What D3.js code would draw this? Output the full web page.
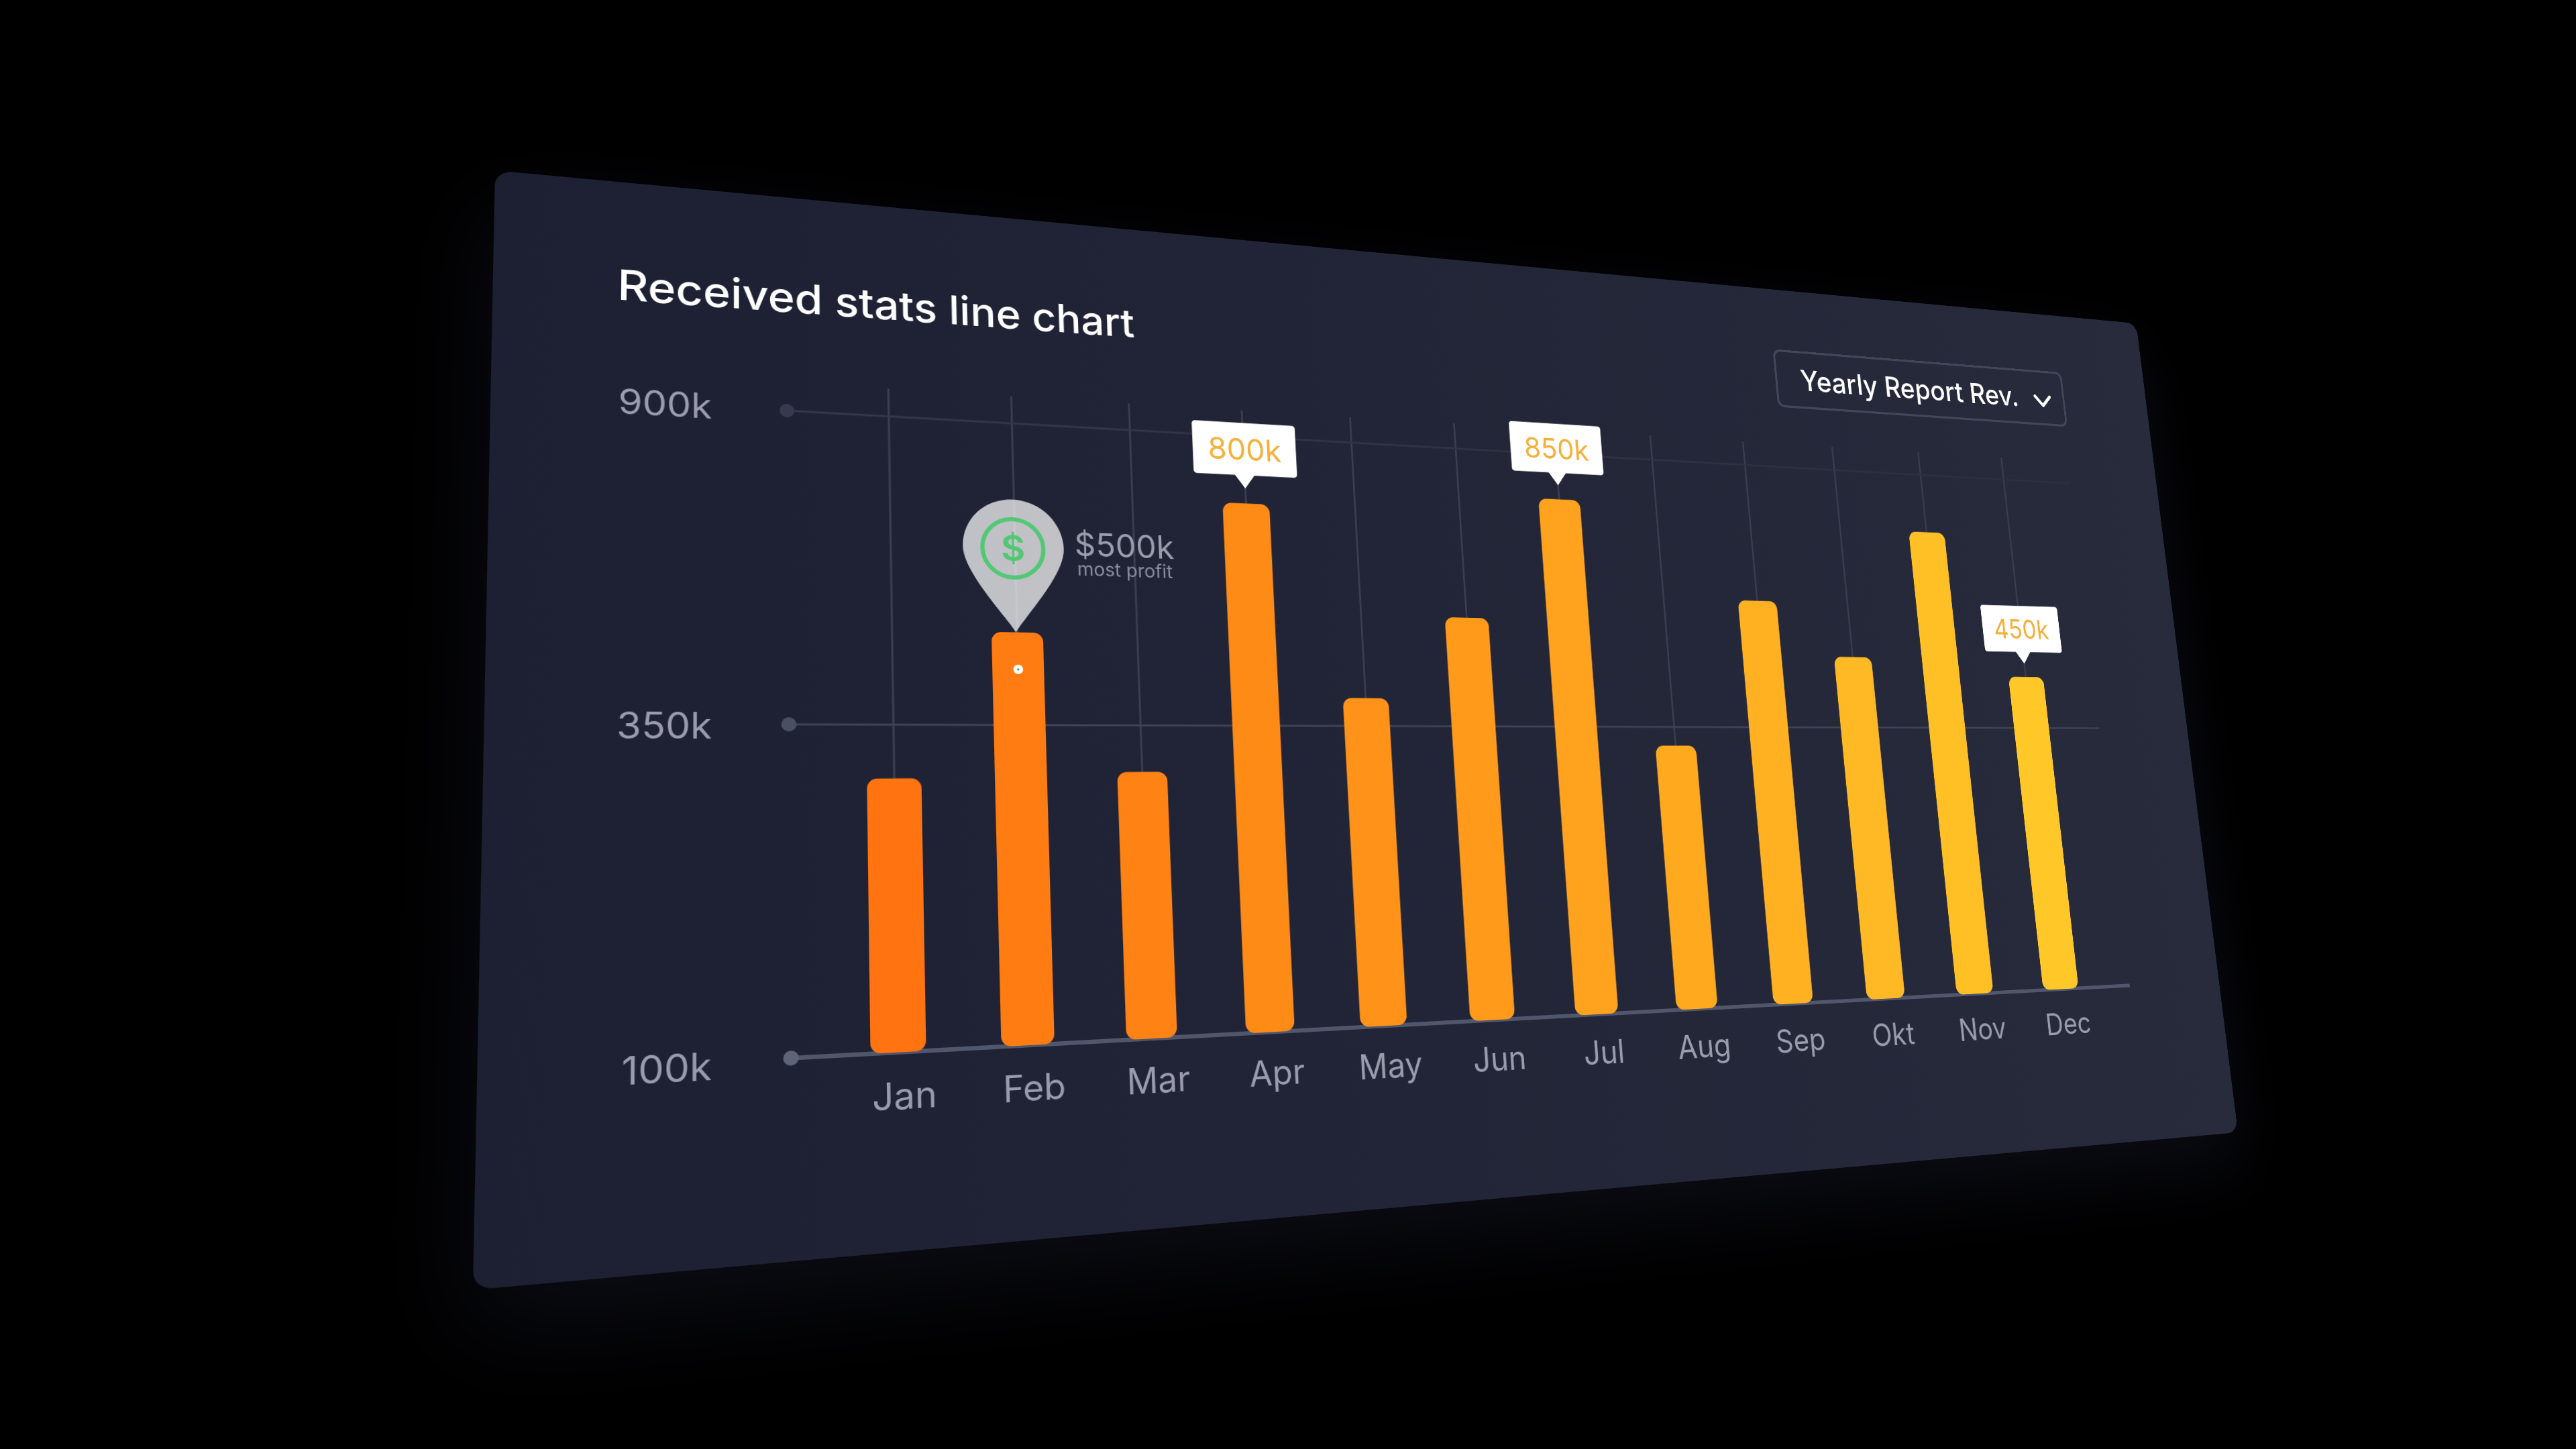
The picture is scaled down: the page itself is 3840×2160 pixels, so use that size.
<!DOCTYPE html>
<html>
<head>
<meta charset="utf-8">
<script src="https://cdn.jsdelivr.net/npm/d3@7"></script>
<style>
    html, body { margin: 0; width: 3840px; height: 2160px; background: #000; overflow: hidden; }
    #panel {
        position: absolute; left: 0; top: 0; width: 2800px; height: 1500px;
        transform-origin: 0 0; border-radius: 22px; overflow: visible;
        background: linear-gradient(90deg, #1d2032, #272b3c);
        box-shadow: 0 50px 130px rgba(40, 44, 70, .3);
    }
    svg { display: block; font-family: Inter, sans-serif; }
    .axis path { display: none; }
</style>
</head>
<body>
<div id="panel"></div>
<script>
const months = ['Jan', 'Feb', 'Mar', 'Apr', 'May', 'Jun', 'Jul', 'Aug', 'Sep', 'Okt', 'Nov', 'Dec']
const received = [308, 516, 312, 770, 403, 562, 807, 333, 612, 498, 773, 461]
const yTicks = [100, 350, 900]
const calloutMonths = ['Apr', 'Jul', 'Dec']
const calloutLabels = ['800k', '850k', '450k']

const W = 2800
const H = 1500

// where the flat panel ends up on screen: TL, TR, BR, BL
const corners = [[738, 254], [3184, 482], [3336, 1688], [705, 1923]]

function panelMatrix(q) {
    let [x0, y0] = q[0], [x1, y1] = q[1], [x2, y2] = q[2], [x3, y3] = q[3]
    let dx1 = x1 - x2, dx2 = x3 - x2, sx = x0 - x1 + x2 - x3
    let dy1 = y1 - y2, dy2 = y3 - y2, sy = y0 - y1 + y2 - y3
    let det = dx1 * dy2 - dx2 * dy1
    let g = (sx * dy2 - dx2 * sy) / det
    let h = (dx1 * sy - sx * dy1) / det
    let a = x1 - x0 + g * x1, b = x3 - x0 + h * x3
    let d = y1 - y0 + g * y1, e = y3 - y0 + h * y3
    return [a / W, d / W, 0, g / W, b / H, e / H, 0, h / H, 0, 0, 1, 0, x0, y0, 0, 1]
}

let panel = d3.select('#panel').style('transform', 'matrix3d(' + panelMatrix(corners).join(',') + ')')
let svg = panel.append('svg').attr('width', W).attr('height', H)

let x = d3.scalePoint().domain(months).range([521, 2458])
// the axis is not even: 100k, 350k and 900k sit at equal distances
let y = d3.scaleLinear().domain([100, 350, 900]).range([1234, 777, 323])
let barColor = d3.scaleLinear().domain([0, months.length - 1]).range(['#ff7410', '#ffc828'])
const barWidth = 74
const axisLeft = 381, axisRight = 2604, gridTop = 281

let fade = svg.append('defs').append('linearGradient')
    .attr('id', 'topFade').attr('gradientUnits', 'userSpaceOnUse')
    .attr('x1', axisLeft).attr('x2', axisRight).attr('y1', 0).attr('y2', 0)
fade.append('stop').attr('offset', 0).attr('stop-color', '#343849')
fade.append('stop').attr('offset', 1).attr('stop-color', '#2b2f40')

svg.append('text')
    .attr('x', 157).attr('y', 175)
    .attr('fill', '#fff').attr('font-size', 62.3).attr('font-weight', 500)
    .text('Received stats line chart')

// dropdown
let drop = svg.append('g')
drop.append('rect')
    .attr('x', 2007).attr('y', 112).attr('width', 604).attr('height', 101).attr('rx', 12)
    .attr('fill', 'none').attr('stroke', '#41465a').attr('stroke-width', 4)
drop.append('text')
    .attr('x', 2055).attr('y', 182)
    .attr('fill', '#fff').attr('font-size', 52).attr('font-weight', 500)
    .text('Yearly Report Rev.')
drop.append('path')
    .attr('d', 'M2548,160 L2564,177 L2580,160')
    .attr('fill', 'none').attr('stroke', '#fff').attr('stroke-width', 6)
    .attr('stroke-linecap', 'round').attr('stroke-linejoin', 'round')

// grid
svg.append('g').selectAll('line').data(months).join('line')
    .attr('x1', d => x(d)).attr('x2', d => x(d))
    .attr('y1', gridTop).attr('y2', y(100))
    .attr('stroke', '#3a3e50').attr('stroke-width', 3)

let gridColor = d3.scaleOrdinal().domain(yTicks).range(['#50566c', '#3f4355', 'url(#topFade)'])
let gridWidth = d3.scaleOrdinal().domain(yTicks).range([6, 3, 3])
svg.append('g').selectAll('line').data(yTicks).join('line')
    .attr('x1', axisLeft).attr('x2', axisRight)
    .attr('y1', d => y(d)).attr('y2', d => y(d))
    .attr('stroke', d => gridColor(d)).attr('stroke-width', d => gridWidth(d))
svg.append('g').selectAll('circle').data(yTicks).join('circle')
    .attr('cx', axisLeft).attr('cy', d => y(d)).attr('r', 10)
    .attr('fill', (d, i) => ['#5e6478', '#4a4f62', '#353a4e'][i])

// axes
let yAxis = svg.append('g').attr('class', 'axis')
    .attr('transform', 'translate(' + axisLeft + ',0)')
    .call(d3.axisLeft(y).tickValues(yTicks).tickSize(0).tickPadding(100).tickFormat(d => d + 'k'))
yAxis.selectAll('text').attr('font-size', 50).attr('fill', '#9a9cae').attr('font-family', 'Inter')
    .attr('dy', (d, i) => ['.44em', '.39em', '.35em'][i])

let xAxis = svg.append('g').attr('class', 'axis')
    .attr('transform', 'translate(7,' + y(100) + ')')
    .call(d3.axisBottom(x).tickSize(0).tickPadding(42))
xAxis.selectAll('text').attr('font-size', 50).attr('fill', '#9a9cae').attr('font-family', 'Inter')

// bars
svg.append('g').selectAll('rect').data(months).join('rect')
    .attr('x', d => x(d) - barWidth / 2)
    .attr('y', (d, i) => y(received[i]))
    .attr('width', barWidth)
    .attr('height', (d, i) => y(100) - y(received[i]))
    .attr('rx', 14)
    .attr('fill', (d, i) => barColor(i))

// white callouts above bars
let callouts = svg.append('g').selectAll('g').data(calloutMonths).join('g')
    .attr('transform', d => 'translate(' + x(d) + ',' + (y(received[months.indexOf(d)]) - 24) + ')')
callouts.append('rect')
    .attr('x', -80).attr('y', -105).attr('width', 164).attr('height', 84).attr('rx', 5)
    .attr('fill', '#fff')
callouts.append('path').attr('d', 'M-16,-22 L0,0 L16,-22 Z').attr('fill', '#fff')
callouts.append('text')
    .attr('x', 2).attr('y', -45)
    .attr('text-anchor', 'middle').attr('font-size', 48).attr('fill', '#f5b03a')
    .text((d, i) => calloutLabels[i])

// pin on the best month
let pin = svg.append('g')
    .attr('transform', 'translate(' + x('Feb') + ',' + y(received[1]) + ')')
pin.append('path')
    .attr('d', 'M0,0 C-14,-24 -73,-88 -73,-127 A73,73 0 1 1 73,-127 C73,-88 14,-24 0,0 Z')
    .attr('transform', 'translate(-2,0)')
    .attr('fill', '#fff').attr('opacity', .72)
pin.append('circle')
    .attr('cx', -3).attr('cy', -126).attr('r', 44)
    .attr('fill', 'none').attr('stroke', '#52c774').attr('stroke-width', 6)
pin.append('text')
    .attr('x', -3).attr('y', -107)
    .attr('text-anchor', 'middle').attr('font-size', 54).attr('font-weight', 600).attr('fill', '#52c774')
    .text('$')
pin.append('circle').attr('cy', 55).attr('r', 7).attr('fill', '#fff')
pin.append('circle').attr('cy', 55).attr('r', 1.5).attr('fill', '#2e7d4f')

svg.append('text')
    .attr('x', 784).attr('y', 522)
    .attr('font-size', 49).attr('fill', '#9b9dad')
    .text('$500k')
svg.append('text')
    .attr('x', 787).attr('y', 552)
    .attr('font-size', 28).attr('fill', '#8b8d9f')
    .text('most profit')
</script>
</body>
</html>
